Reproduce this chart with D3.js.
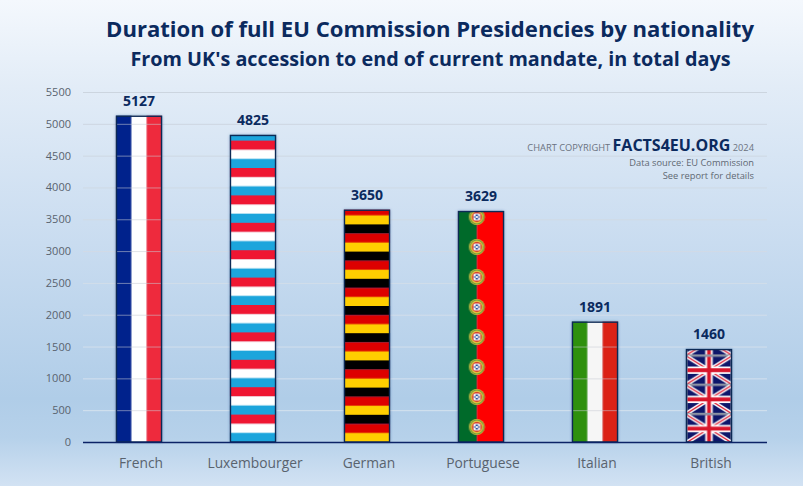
<!DOCTYPE html>
<html>
<head>
<meta charset="utf-8">
<script src="https://cdn.jsdelivr.net/npm/d3@7/dist/d3.min.js"></script>
<style>
html,body{margin:0;padding:0;background:#fff}
svg{display:block}
text{font-family:"Open Sans","Noto Sans",sans-serif}
</style>
</head>
<body>
<div id="chart"></div>
<script>
const nationalities = ["French","Luxembourger","German","Portuguese","Italian","British"];
const totalDays = [5127,4825,3650,3629,1891,1460];
const flagIds = ["fr","lu","de","pt","it","uk"];
const axisTicks = d3.range(0,5501,500);
const titleLine = "Duration of full EU Commission Presidencies by nationality";
const subtitleLine = "From UK's accession to end of current mandate, in total days";

const W = 803, H = 486;
const navy = "#0b2a5e", labelGrey = "#59636e";

const svg = d3.select("#chart").append("svg").attr("width",W).attr("height",H);
const defs = svg.append("defs");

const bg = defs.append("linearGradient").attr("id","bg").attr("x1",0).attr("x2",0).attr("y1",0).attr("y2",1);
[[0,"#f4f8fd"],[0.18,"#e2ecf7"],[0.5,"#c9dcf0"],[0.82,"#b0cde8"],[0.9,"#b6d1ea"],[1,"#d2e2f3"]]
  .forEach(([o,c])=>bg.append("stop").attr("offset",o).attr("stop-color",c));
svg.append("rect").attr("width",W).attr("height",H).attr("fill","url(#bg)");

const x = d3.scaleBand().domain(nationalities).range([82,766]).paddingInner(0.596).paddingOuter(0.298);
const y = d3.scaleLinear().domain([0,5500]).range([442,92]);
const base = y(0), barW = x.bandwidth();

// Tiled flag fills, anchored on the baseline of the chart
function tile(id,i,w,h){
  const bx = x(nationalities[i]);
  return defs.append("pattern").attr("id",id).attr("patternUnits","userSpaceOnUse")
    .attr("x",bx).attr("y",base-h).attr("width",w).attr("height",h);
}
function vTri(p,w,h,cols){
  cols.forEach((c,k)=>p.append("rect").attr("x",w*k/cols.length).attr("y",0)
    .attr("width",w/cols.length+0.3).attr("height",h).attr("fill",c));
}
function hTri(p,w,h,cols){
  cols.forEach((c,k)=>p.append("rect").attr("x",0).attr("y",h*k/cols.length)
    .attr("width",w).attr("height",h/cols.length+0.3).attr("fill",c));
}
vTri(tile("fr",0,barW,400),barW,400,["#00208c","#ffffff","#ee2a3c"]);
hTri(tile("lu",1,barW,27.4),barW,27.4,["#ef1533","#ffffff","#1ea5dc"]);
hTri(tile("de",2,barW,27.2),barW,27.2,["#000000","#dd0000","#ffce00"]);
vTri(tile("it",4,barW,400),barW,400,["#2f9010","#f6f6f6","#db2015"]);

// Portuguese flag: green and red field with the armillary emblem
{
  const w = barW, h = 30;
  const p = tile("pt",3,w,h);
  const cx = w*0.41, cy = h*0.5;
  p.append("rect").attr("width",cx).attr("height",h).attr("fill","#046a2c");
  p.append("rect").attr("x",cx).attr("width",w-cx).attr("height",h).attr("fill","#fe0000");
  p.append("circle").attr("cx",cx).attr("cy",cy).attr("r",8).attr("fill","#e3c03c");
  p.append("circle").attr("cx",cx).attr("cy",cy).attr("r",7).attr("fill","none").attr("stroke","#6f9d3a").attr("stroke-width",1.2);
  p.append("circle").attr("cx",cx).attr("cy",cy).attr("r",5).attr("fill","#d8352c");
  p.append("rect").attr("x",cx-3.4).attr("y",cy-3.6).attr("width",6.8).attr("height",7.2).attr("rx",1.5).attr("fill","#f4f4f4");
  p.append("path").attr("d",`M${cx-1.2} ${cy-2.6}h2.4v1.5h-2.4zM${cx-1.2} ${cy+1.1}h2.4v1.5h-2.4zM${cx-2.6} ${cy-0.75}h1.5v1.5h-1.5zM${cx+1.1} ${cy-0.75}h1.5v1.5h-1.5z`).attr("fill","#2c4f9e");
}

// Union flag tiles, stacked with a grey seam between them
{
  const w = barW, h = 29.2, seam = 2.4, fh = h-seam;
  const p = tile("uk",5,w,h);
  p.append("rect").attr("width",w).attr("height",h).attr("fill","#8d93a3");
  const f = p.append("g").attr("transform",`translate(1.5,${seam})`);
  const fw = w-3;
  f.append("rect").attr("width",fw).attr("height",fh).attr("fill","#10186a");
  const diag = `M0 0L${fw} ${fh}M${fw} 0L0 ${fh}`;
  const cross = `M${fw/2} 0V${fh}M0 ${fh/2}H${fw}`;
  f.append("path").attr("d",diag).attr("stroke","#fff").attr("stroke-width",4.2);
  f.append("path").attr("d",diag).attr("stroke","#d8142c").attr("stroke-width",1.3);
  f.append("path").attr("d",cross).attr("stroke","#fff").attr("stroke-width",7.5);
  f.append("path").attr("d",cross).attr("stroke","#d8142c").attr("stroke-width",3.8);
}

const shadow = defs.append("filter").attr("id","barShadow").attr("x","-20%").attr("y","-5%").attr("width","140%").attr("height","110%");
shadow.append("feDropShadow").attr("dx",0).attr("dy",0).attr("stdDeviation",1.4).attr("flood-color","#27508c").attr("flood-opacity",0.45);

// Value axis and gridlines
const yAxis = d3.axisLeft(y).tickValues(axisTicks).tickFormat(d3.format("d")).tickSize(0).tickPadding(12);
const gy = svg.append("g").attr("transform","translate(83,0)").call(yAxis);
gy.select(".domain").remove();
gy.selectAll("text").attr("font-size",11).attr("fill",labelGrey).attr("x",-12);

const gridTone = d3.scaleLinear().domain([0,5500]).range(["#d6e3f1","#ccd5df"]);
svg.append("g").selectAll("line").data(axisTicks.slice(1)).join("line")
  .attr("x1",83).attr("x2",767).attr("y1",d=>y(d)+0.5).attr("y2",d=>y(d)+0.5)
  .attr("stroke",d=>gridTone(d)).attr("stroke-width",1);

// Bars
svg.append("g").selectAll("rect").data(totalDays).join("rect")
  .attr("x",(d,i)=>x(nationalities[i])).attr("y",d=>y(d))
  .attr("width",barW).attr("height",d=>base-y(d))
  .attr("fill",(d,i)=>`url(#${flagIds[i]})`)
  .attr("filter","url(#barShadow)");

// Gridlines showing faintly through the two plain tricolours
[0,4].forEach(i=>{
  svg.append("g").selectAll("line").data(axisTicks.slice(1).filter(t=>t<totalDays[i])).join("line")
    .attr("x1",x(nationalities[i])+1).attr("x2",x(nationalities[i])+barW-1)
    .attr("y1",d=>y(d)+0.5).attr("y2",d=>y(d)+0.5)
    .attr("stroke","#c8ccd4").attr("stroke-opacity",0.55);
});

svg.append("g").selectAll("rect").data(totalDays).join("rect")
  .attr("x",(d,i)=>x(nationalities[i])+0.5).attr("y",d=>y(d)+0.5)
  .attr("width",barW-1).attr("height",d=>base-y(d)-0.5)
  .attr("fill","none").attr("stroke","#0c2a55").attr("stroke-width",1.4);

// Baseline
svg.append("line").attr("x1",83).attr("x2",767).attr("y1",base+0.5).attr("y2",base+0.5)
  .attr("stroke","#0b2266").attr("stroke-width",1.3);

// Value labels
svg.append("g").selectAll("text").data(totalDays).join("text")
  .attr("x",(d,i)=>x(nationalities[i])+barW/2).attr("y",d=>y(d)-10)
  .attr("text-anchor","middle").attr("font-size",14).attr("font-weight",700).attr("fill",navy)
  .text(d=>d);

// Category labels
svg.append("g").selectAll("text").data(nationalities).join("text")
  .attr("x",d=>x(d)+barW/2+2).attr("y",468)
  .attr("text-anchor","middle").attr("font-size",13.8).attr("fill",labelGrey)
  .text(d=>d);

// Titles
svg.append("text").attr("x",430).attr("y",37).attr("text-anchor","middle")
  .attr("font-size",22.1).attr("font-weight",700).attr("fill",navy).text(titleLine);
svg.append("text").attr("x",430.5).attr("y",66).attr("text-anchor","middle")
  .attr("font-size",19.8).attr("font-weight",700).attr("fill",navy).text(subtitleLine);

// Credit block
const credit = svg.append("text").attr("x",754).attr("y",151).attr("text-anchor","end").attr("fill","#6b7280").attr("font-size",9.3);
credit.append("tspan").text("CHART COPYRIGHT ");
credit.append("tspan").attr("font-size",16).attr("font-weight",700).attr("fill",navy).text("FACTS4EU.ORG");
credit.append("tspan").text(" 2024");
svg.append("text").attr("x",754).attr("y",166).attr("text-anchor","end").attr("fill","#5f6872").attr("font-size",9.3).text("Data source: EU Commission");
svg.append("text").attr("x",754).attr("y",179).attr("text-anchor","end").attr("fill","#5f6872").attr("font-size",9.3).text("See report for details");
</script>
</body>
</html>
